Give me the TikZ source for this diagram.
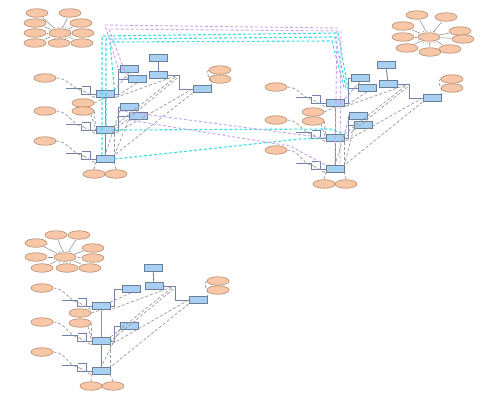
\documentclass[tikz,border=0pt]{standalone}
\usetikzlibrary{shapes.geometric,calc,arrows.meta}
\definecolor{rectfill}{HTML}{A8D0F2}
\definecolor{rectborder}{HTML}{6A7E98}
\definecolor{ellfill}{HTML}{F7C7A7}
\definecolor{ellborder}{HTML}{B48A6C}
\definecolor{connc}{HTML}{7282AA}
\definecolor{dashc}{HTML}{999999}
\definecolor{cyanc}{HTML}{3CDDE6}
\definecolor{purc}{HTML}{C9A2EA}
\definecolor{spokec}{HTML}{8A8A8A}
\tikzset{
 rct/.style={draw=rectborder, fill=rectfill, rectangle, minimum width=18pt, minimum height=7pt, inner sep=0pt, line width=0.8pt},
 ell/.style={draw=ellborder, fill=ellfill, ellipse, minimum width=22pt, minimum height=8.5pt, inner sep=0pt, line width=0.6pt},
 conn/.style={draw=connc, line width=0.9pt},
 dsh/.style={draw=dashc, dash pattern=on 3pt off 2pt, line width=0.7pt},
 cy/.style={draw=cyanc, dash pattern=on 3pt off 2pt, line width=1.1pt},
 pu/.style={draw=purc, dash pattern=on 3pt off 2pt, line width=0.9pt},
 spoke/.style={draw=spokec, line width=0.5pt, shorten >=1pt, shorten <=1pt}
}
\newcommand\mystub[1]{%
 \draw[conn] (#1.west) -| ++(-14,-6) -- ++(-16,0);
 \draw[conn] ($(#1.west)+(-5,0)$) -- ++(0,-8) -- ++(-9,0);
}
\begin{document}
\begin{tikzpicture}[x=1pt,y=-1pt]
\fill[white] (0,0) rectangle (500,400);
\useasboundingbox (0,0) rectangle (500,400);

% ===== ellipse groups =====
\node[ell] (k1) at (60,33) {};
\foreach \p [count=\n] in {(37,13),(70,13),(35,23),(81,23),(35,33),(83,33),(35,43),(59,43),(82,43)}
 { \node[ell] (k1s\n) at \p {}; \draw[spoke] (k1) -- (k1s\n); }
\foreach \a in {15,45,...,345} \draw[spoke] (k1.\a) -- ++(\a:3pt);

\node[ell] (k2) at (429,37) {};
\foreach \p [count=\n] in {(417,15),(446,17),(403,26),(403,37),(460,31),(463,39),(407,48),(430,52),(450,49)}
 { \node[ell] (k2s\n) at \p {}; \draw[spoke] (k2) -- (k2s\n); }
\foreach \a in {15,45,...,345} \draw[spoke] (k2.\a) -- ++(\a:3pt);

\node[ell] (k3) at (65,257) {};
\foreach \p [count=\n] in {(56,235),(79,235),(36,243),(93,248),(36,257),(93,258),(42,268),(67,268),(90,268)}
 { \node[ell] (k3s\n) at \p {}; \draw[spoke] (k3) -- (k3s\n); }
\foreach \a in {15,45,...,345} \draw[spoke] (k3.\a) -- ++(\a:3pt);

% ===== cluster 1 =====
\node[rct] (a1) at (105,94) {};
\node[rct] (b1) at (105,130) {};
\node[rct] (c1) at (105,159) {};
\node[rct] (d1) at (129,69) {};
\node[rct] (e1) at (137,79) {};
\node[rct] (f1) at (158,58) {};
\node[rct] (g1) at (158,75) {};
\node[rct] (h1) at (202,89) {};
\node[rct] (i1) at (129,107) {};
\node[rct] (j1) at (138,116) {};
\node[ell] (l1a) at (45,78) {};
\node[ell] (l1b) at (45,111) {};
\node[ell] (l1c) at (45,141) {};
\node[ell] (m1a) at (83,103) {};
\node[ell] (m1b) at (83,111) {};
\node[ell] (n1a) at (94,174) {};
\node[ell] (n1b) at (116,174) {};
\node[ell] (r1a) at (220,70) {};
\node[ell] (r1b) at (220,79) {};

% ===== cluster 2 =====
\node[rct] (a2) at (335,103) {};
\node[rct] (b2) at (335,138) {};
\node[rct] (c2) at (335,169) {};
\node[rct] (d2) at (360,78) {};
\node[rct] (e2) at (367,88) {};
\node[rct] (f2) at (386,65) {};
\node[rct] (g2) at (388,84) {};
\node[rct] (h2) at (432,98) {};
\node[rct] (i2) at (358,116) {};
\node[rct] (j2) at (363,125) {};
\node[ell] (l2a) at (276,87) {};
\node[ell] (l2b) at (276,120) {};
\node[ell] (l2c) at (276,150) {};
\node[ell] (m2a) at (313,112) {};
\node[ell] (m2b) at (313,121) {};
\node[ell] (n2a) at (324,184) {};
\node[ell] (n2b) at (346,184) {};
\node[ell] (r2a) at (452,79) {};
\node[ell] (r2b) at (452,88) {};

% ===== cluster 3 =====
\node[rct] (a3) at (101,306) {};
\node[rct] (b3) at (101,341) {};
\node[rct] (c3) at (101,371) {};
\node[rct] (d3) at (131,289) {};
\node[rct] (f3) at (153,268) {};
\node[rct] (g3) at (154,286) {};
\node[rct] (h3) at (198,300) {};
\node[rct] (i3) at (129,326) {};
\node[ell] (l3a) at (42,288) {};
\node[ell] (l3b) at (42,322) {};
\node[ell] (l3c) at (42,352) {};
\node[ell] (m3a) at (80,313) {};
\node[ell] (m3b) at (80,323) {};
\node[ell] (n3a) at (91,386) {};
\node[ell] (n3b) at (113,386) {};
\node[ell] (r3a) at (218,281) {};
\node[ell] (r3b) at (218,290) {};

% ===== solid connectors =====
\foreach \c in {1,2,3} {
 \draw[conn] (a\c) -- (b\c);
 \draw[conn] (b\c) -- (c\c);
 \draw[conn] (f\c) -- (g\c);
 \draw[conn] (g\c.east) -- ++(12,0) |- (h\c.west);
 \draw[conn] (a\c.east) -- ++(4,0) |- (d\c.west);
 \draw[conn] (b\c.east) -- ++(4,0) |- (i\c.west);
 \mystub{a\c}
 \mystub{b\c}
 \mystub{c\c}
}
\foreach \c in {1,2} {
 \draw[conn] ($(a\c.east)+(4,0)$) |- (e\c.west);
 \draw[conn] ($(b\c.east)+(4,0)$) |- (j\c.west);
}

% ===== grey dashed connectors =====
\foreach \c in {1,2,3} {
 \draw[dsh] (l\c a.east) to[out=0,in=170] ($(a\c.west)+(-12,-3)$);
 \draw[dsh] (l\c b.east) to[out=0,in=170] ($(b\c.west)+(-12,-3)$);
 \draw[dsh] (l\c c.east) to[out=0,in=170] ($(c\c.west)+(-12,-3)$);
 \draw[dsh] ($(a\c.west)+(-12,-3)$) -- (a\c.south west);
 \draw[dsh] ($(b\c.west)+(-12,-3)$) -- (b\c.south west);
 \draw[dsh] ($(c\c.west)+(-12,-3)$) -- (c\c.south west);
 \draw[dsh] (m\c a.east) -- (a\c.south);
 \draw[dsh] (m\c b.east) -- (b\c.north west);
 \draw[dsh] (m\c b.south east) -- (b\c.west);
 \draw[dsh] (n\c a.north) -- (c\c.south west);
 \draw[dsh] (n\c b.north) -- (c\c.south east);
 \draw[dsh] (r\c a.west) to[out=200,in=70] (h\c.north east);
 \draw[dsh] ($(g\c.east)+(8,1)$) -- (a\c.south east);
 \draw[dsh] ($(g\c.east)+(8,2)$) -- (b\c.north east);
 \draw[dsh] ($(g\c.east)+(10,3)$) -- (b\c.east);
 \draw[dsh] (h\c.west) -- (b\c.south east);
 \draw[dsh] (h\c.south west) -- (c\c.north east);
 \draw[dsh] (d\c.south) -- (a\c.north east);
 \draw[dsh] (i\c.south west) -- (c\c.north);
 \draw[dsh] (a\c.south) -- (b\c.north);
 \draw[dsh] (b\c.south east) -- (c\c.north east);
}
\foreach \c in {1,2} {
 \draw[dsh] (e\c.south) -- (a\c.south east);
 \draw[dsh] (j\c.south west) -- (c\c.north east);
}

% ===== cyan links between clusters 1 and 2 =====
\draw[cy] (c1.north) ++(-3,0) -- (102,36) -- (338,33) -- ($(a2.north east)+(4,-8)$);
\draw[cy] (b1.north) ++(1,0) -- (106,39) -- (335,37) -- ($(a2.north east)+(2,-9)$);
\draw[cy] (a1.north east) -- (110,42) -- (332,41) -- ($(a2.north east)+(0,-10)$);
\draw[cy] (b1.east) -- (330,129) -- (b2.north east);
\draw[cy] (c1.east) -- (300,139) -- (b2.west);

% ===== purple links =====
\draw[pu] (d1.south west) -- (105,25) -- (337,28) -- (c2.north);
\draw[pu] (e1.west) -- (109,29) -- (341,31) -- ($(c2.north)+(5,0)$);
\draw[pu] (i1.south west) -- (b2.west);
\draw[pu] (j1.south west) -- (290,146) -- (c2.north west);
\end{tikzpicture}
\end{document}
